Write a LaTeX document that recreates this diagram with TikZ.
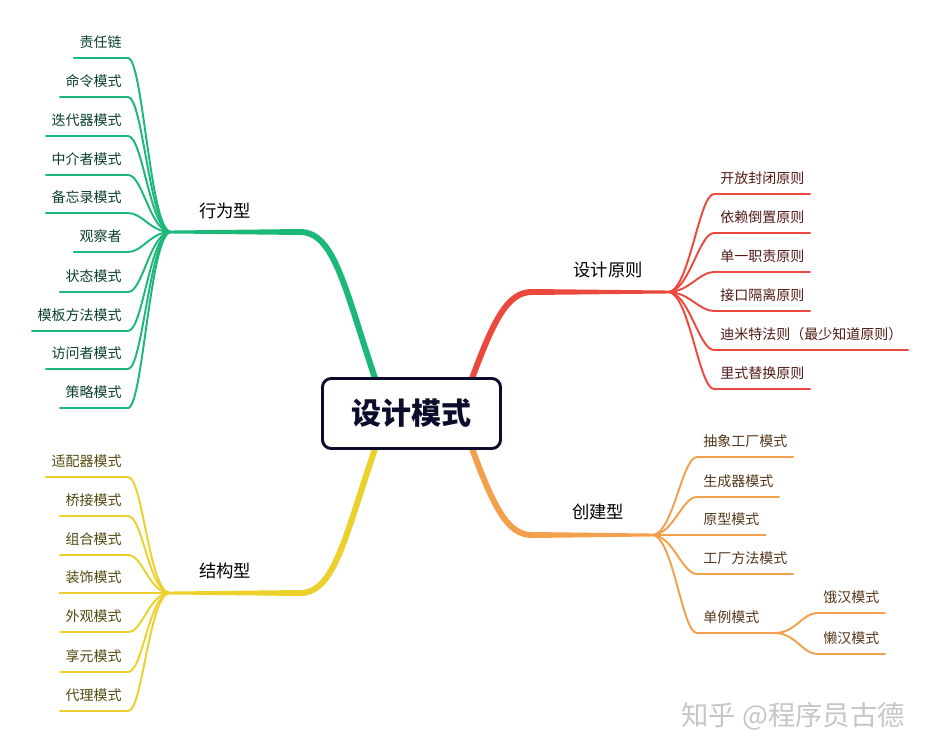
\documentclass[tikz,border=0pt]{standalone}
\usepackage{fontspec}
\setmainfont{Noto Sans CJK SC}
\usepackage{tikz}

\definecolor{cgreen}{RGB}{27,184,122}
\definecolor{cred}{RGB}{235,72,62}
\definecolor{corange}{RGB}{242,160,76}
\definecolor{cyellow}{RGB}{236,208,44}
\definecolor{cnavy}{RGB}{12,12,44}

\tikzset{
  leaf/.style={font=\fontsize{10.5pt}{12pt}\selectfont, inner xsep=4.5pt, inner ysep=8pt, text depth=0pt, text=#1!35!black},
  twig/.style={draw=#1, line width=1.45pt},
  trunk/.style={draw=#1, line width=4.5pt},
  branchlabel/.style={font=\fontsize{13pt}{15pt}\selectfont, inner sep=0pt},
}

\begin{document}
\begin{tikzpicture}[x=0.75pt,y=0.75pt,yscale=-1,xscale=1]
\path[fill=white] (0,0) rectangle (931,754);
\useasboundingbox (0,0) rectangle (931,754);

%Hubs and bends
\coordinate (g0) at (377,384);
\coordinate (gbend) at (300,232);
\coordinate (ghub) at (171,232);
\coordinate (r0) at (470,384);
\coordinate (rbend) at (532,292);
\coordinate (rhub) at (668,292);
\coordinate (y0) at (377,443);
\coordinate (ybend) at (300,593);
\coordinate (yhub) at (170,593);
\coordinate (o0) at (470,443);
\coordinate (obend) at (532,535);
\coordinate (ohub) at (652,535);
\coordinate (ohub2) at (775,633);

%Trunks
\draw[trunk=cgreen] (g0) .. controls (345,290) and (335,232) .. (gbend);
\fill[cgreen] ([yshift=2.25pt]gbend) -- ([yshift=1.1pt]ghub) -- ([yshift=-1.1pt]ghub) -- ([yshift=-2.25pt]gbend) -- cycle;
\draw[trunk=cred] (r0) .. controls (494,318) and (508,292) .. (rbend);
\fill[cred] ([yshift=2.25pt]rbend) -- ([yshift=1.1pt]rhub) -- ([yshift=-1.1pt]rhub) -- ([yshift=-2.25pt]rbend) -- cycle;
\draw[trunk=cyellow] (y0) .. controls (345,536) and (335,593) .. (ybend);
\fill[cyellow] ([yshift=2.25pt]ybend) -- ([yshift=1.1pt]yhub) -- ([yshift=-1.1pt]yhub) -- ([yshift=-2.25pt]ybend) -- cycle;
\draw[trunk=corange] (o0) .. controls (494,509) and (508,535) .. (obend);
\fill[corange] ([yshift=2.25pt]obend) -- ([yshift=1.1pt]ohub) -- ([yshift=-1.1pt]ohub) -- ([yshift=-2.25pt]obend) -- cycle;

%Root
\node[draw=cnavy, line width=2.2pt, rounded corners=6.5pt, fill=white, minimum width=133.5pt, minimum height=52.5pt, inner sep=0pt, font=\fontsize{22.5pt}{26pt}\selectfont\bfseries, text=cnavy] (root) at (411.5,413.5) {设计模式};

% Text Node
\node[branchlabel] (glabel) at (225,211) {行为型};
\node[branchlabel] (rlabel) at (608,270) {设计原则};
\node[branchlabel] (ylabel) at (225,571) {结构型};
\node[branchlabel] (olabel) at (598,512) {创建型};

%Behaviour leaves
\node[leaf=cgreen, anchor=south east] (g1) at (128,58) {责任链};
\node[leaf=cgreen, anchor=south east] (g2) at (128,97) {命令模式};
\node[leaf=cgreen, anchor=south east] (g3) at (128,136) {迭代器模式};
\node[leaf=cgreen, anchor=south east] (g4) at (128,175) {中介者模式};
\node[leaf=cgreen, anchor=south east] (g5) at (128,213) {备忘录模式};
\node[leaf=cgreen, anchor=south east] (g6) at (128,252) {观察者};
\node[leaf=cgreen, anchor=south east] (g7) at (128,292) {状态模式};
\node[leaf=cgreen, anchor=south east] (g8) at (128,331) {模板方法模式};
\node[leaf=cgreen, anchor=south east] (g9) at (128,369) {访问者模式};
\node[leaf=cgreen, anchor=south east] (g10) at (128,408) {策略模式};
\draw[twig=cgreen] (ghub) .. controls +(-21,0) and +(15,0) .. (g1.south east) -- (g1.south west);
\draw[twig=cgreen] (ghub) .. controls +(-21,0) and +(15,0) .. (g2.south east) -- (g2.south west);
\draw[twig=cgreen] (ghub) .. controls +(-21,0) and +(15,0) .. (g3.south east) -- (g3.south west);
\draw[twig=cgreen] (ghub) .. controls +(-21,0) and +(15,0) .. (g4.south east) -- (g4.south west);
\draw[twig=cgreen] (ghub) .. controls +(-21,0) and +(15,0) .. (g5.south east) -- (g5.south west);
\draw[twig=cgreen] (ghub) .. controls +(-21,0) and +(15,0) .. (g6.south east) -- (g6.south west);
\draw[twig=cgreen] (ghub) .. controls +(-21,0) and +(15,0) .. (g7.south east) -- (g7.south west);
\draw[twig=cgreen] (ghub) .. controls +(-21,0) and +(15,0) .. (g8.south east) -- (g8.south west);
\draw[twig=cgreen] (ghub) .. controls +(-21,0) and +(15,0) .. (g9.south east) -- (g9.south west);
\draw[twig=cgreen] (ghub) .. controls +(-21,0) and +(15,0) .. (g10.south east) -- (g10.south west);

%Structure leaves
\node[leaf=cyellow, anchor=south east] (y1) at (128,477) {适配器模式};
\node[leaf=cyellow, anchor=south east] (y2) at (128,516) {桥接模式};
\node[leaf=cyellow, anchor=south east] (y3) at (128,555) {组合模式};
\node[leaf=cyellow, anchor=south east] (y4) at (128,593) {装饰模式};
\node[leaf=cyellow, anchor=south east] (y5) at (128,632) {外观模式};
\node[leaf=cyellow, anchor=south east] (y6) at (128,672) {享元模式};
\node[leaf=cyellow, anchor=south east] (y7) at (128,711) {代理模式};
\draw[twig=cyellow] (yhub) .. controls +(-21,0) and +(15,0) .. (y1.south east) -- (y1.south west);
\draw[twig=cyellow] (yhub) .. controls +(-21,0) and +(15,0) .. (y2.south east) -- (y2.south west);
\draw[twig=cyellow] (yhub) .. controls +(-21,0) and +(15,0) .. (y3.south east) -- (y3.south west);
\draw[twig=cyellow] (yhub) .. controls +(-21,0) and +(15,0) .. (y4.south east) -- (y4.south west);
\draw[twig=cyellow] (yhub) .. controls +(-21,0) and +(15,0) .. (y5.south east) -- (y5.south west);
\draw[twig=cyellow] (yhub) .. controls +(-21,0) and +(15,0) .. (y6.south east) -- (y6.south west);
\draw[twig=cyellow] (yhub) .. controls +(-21,0) and +(15,0) .. (y7.south east) -- (y7.south west);

%Principle leaves
\node[leaf=cred, anchor=south west] (r1) at (714,194) {开放封闭原则};
\node[leaf=cred, anchor=south west] (r2) at (714,233) {依赖倒置原则};
\node[leaf=cred, anchor=south west] (r3) at (714,272) {单一职责原则};
\node[leaf=cred, anchor=south west] (r4) at (714,311) {接口隔离原则};
\node[leaf=cred, anchor=south west] (r5) at (714,350) {迪米特法则（最少知道原则）};
\node[leaf=cred, anchor=south west] (r6) at (714,389) {里式替换原则};
\draw[twig=cred] (rhub) .. controls +(21,0) and +(-15,0) .. (r1.south west) -- (r1.south east);
\draw[twig=cred] (rhub) .. controls +(21,0) and +(-15,0) .. (r2.south west) -- (r2.south east);
\draw[twig=cred] (rhub) .. controls +(21,0) and +(-15,0) .. (r3.south west) -- (r3.south east);
\draw[twig=cred] (rhub) .. controls +(21,0) and +(-15,0) .. (r4.south west) -- (r4.south east);
\draw[twig=cred] (rhub) .. controls +(21,0) and +(-15,0) .. (r5.south west) -- (r5.south east);
\draw[twig=cred] (rhub) .. controls +(21,0) and +(-15,0) .. (r6.south west) -- (r6.south east);

%Creation leaves
\node[leaf=corange, anchor=south west] (o1) at (697,457) {抽象工厂模式};
\node[leaf=corange, anchor=south west] (o2) at (697,497) {生成器模式};
\node[leaf=corange, anchor=south west] (o3) at (697,535) {原型模式};
\node[leaf=corange, anchor=south west] (o4) at (697,574) {工厂方法模式};
\node[leaf=corange, anchor=south west] (o5) at (697,633) {单例模式};
\node[leaf=corange, anchor=south west] (o6) at (817,613) {饿汉模式};
\node[leaf=corange, anchor=south west] (o7) at (817,654) {懒汉模式};
\draw[twig=corange] (ohub) .. controls +(21,0) and +(-15,0) .. (o1.south west) -- (o1.south east);
\draw[twig=corange] (ohub) .. controls +(21,0) and +(-15,0) .. (o2.south west) -- (o2.south east);
\draw[twig=corange] (ohub) -- (o3.south west) -- (o3.south east);
\draw[twig=corange] (ohub) .. controls +(21,0) and +(-15,0) .. (o4.south west) -- (o4.south east);
\draw[twig=corange] (ohub) .. controls +(21,0) and +(-15,0) .. (o5.south west) -- (ohub2);
\draw[twig=corange] (ohub2) .. controls +(20,0) and +(-14,0) .. (o6.south west) -- (o6.south east);
\draw[twig=corange] (ohub2) .. controls +(20,0) and +(-14,0) .. (o7.south west) -- (o7.south east);

% Text Node
\node[font=\fontsize{20.5pt}{24pt}\selectfont, text=gray!45, inner sep=0pt] (mark) at (793,716) {知乎 @程序员古德};

\end{tikzpicture}
\end{document}
